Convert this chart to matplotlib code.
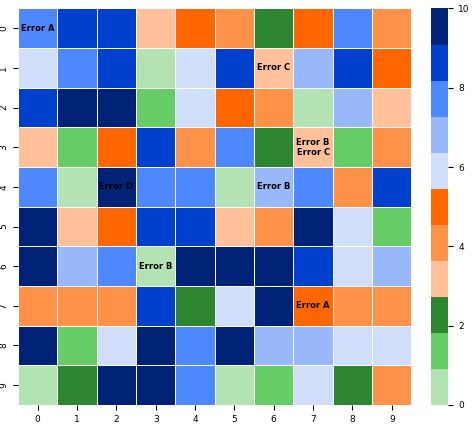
import numpy as np
import matplotlib
matplotlib.use('Agg')
import matplotlib.pyplot as plt
from matplotlib.colors import ListedColormap
import seaborn as sns

values = np.array([
    [8, 9, 9, 3, 5, 4, 2, 5, 8, 4],
    [6, 8, 9, 0, 6, 9, 3, 7, 9, 5],
    [9, 10, 10, 1, 6, 5, 4, 0, 7, 3],
    [3, 1, 5, 9, 4, 8, 2, 3, 1, 4],
    [8, 0, 10, 8, 8, 0, 7, 8, 4, 9],
    [10, 3, 5, 9, 9, 3, 4, 10, 6, 1],
    [10, 7, 8, 0, 10, 10, 10, 9, 6, 7],
    [4, 4, 4, 9, 2, 6, 10, 5, 4, 4],
    [10, 1, 6, 10, 8, 10, 7, 7, 6, 6],
    [0, 2, 10, 10, 8, 0, 1, 6, 2, 4],
])

labels = np.full(values.shape, '', dtype=object)
labels[0, 0] = 'Error A'
labels[1, 6] = 'Error C'
labels[3, 7] = 'Error B\nError C'
labels[4, 2] = 'Error D'
labels[4, 6] = 'Error B'
labels[6, 3] = 'Error B'
labels[7, 7] = 'Error A'

palette = ['#b3e2b3', '#66cc66', '#2e8630', '#ffc09a', '#ff9248', '#ff6600',
           '#d0defa', '#99b8fa', '#4d88ff', '#0040cc', '#002277']
cmap = ListedColormap(palette)

fig = plt.figure(figsize=(4.74, 4.24), dpi=100)
ax = fig.add_axes([0.038, 0.045, 0.83, 0.935])
cax = fig.add_axes([0.91, 0.045, 0.036, 0.935])
sns.heatmap(values, cmap=cmap, vmin=0, vmax=10, annot=labels, fmt='',
            annot_kws={'fontsize': 6, 'fontweight': 'bold', 'color': 'black'},
            linewidths=0.6, linecolor='white', ax=ax, cbar_ax=cax,
            cbar_kws={'ticks': [0, 2, 4, 6, 8, 10]})
ax.tick_params(labelsize=6.5)
cax.tick_params(labelsize=6.5)
fig.savefig('out.png', dpi=100)
